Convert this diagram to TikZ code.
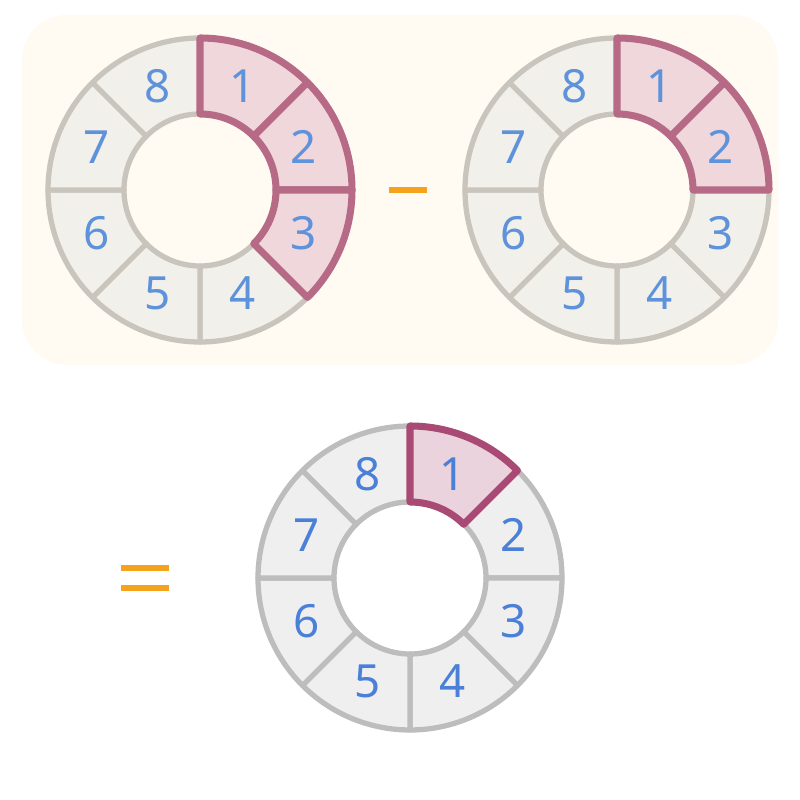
\documentclass[tikz,border=0pt]{standalone}
\usepackage{fontspec}
\setmainfont{Noto Sans}
\definecolor{bgc}{HTML}{FFFBF3}
\definecolor{gs}{HTML}{C9C5BD}
\definecolor{gf}{HTML}{F2F0EB}
\definecolor{hs}{HTML}{B66A86}
\definecolor{hf}{HTML}{EFD7DB}
\definecolor{gs2}{HTML}{BDBDBD}
\definecolor{gf2}{HTML}{EFEFEF}
\definecolor{hs2}{HTML}{A84A74}
\definecolor{hf2}{HTML}{EAD3DD}
\definecolor{numc}{HTML}{5E92DB}
\definecolor{numc2}{HTML}{4A80D8}
\definecolor{orng}{HTML}{F5A21C}
\tikzset{
  seg/.style={line width=1.5pt, line join=round},
  num/.style={font=\fontsize{13}{13}\selectfont, text=numc},
  bar/.style={fill=orng, inner sep=0pt}
}
\newcommand{\ringseg}[3]{%
  \pgfmathsetmacro{\sa}{90-45*(#2-1)}%
  \pgfmathsetmacro{\sb}{90-45*#2}%
  \draw[seg,#3] ($(#1)+(\sa:152)$) arc[start angle=\sa,end angle=\sb,radius=152]
     -- ($(#1)+(\sb:76)$) arc[start angle=\sb,end angle=\sa,radius=76] -- cycle;}
\newcommand{\ringnums}[2]{%
  \foreach \i in {1,...,8}{%
    \pgfmathsetmacro{\ma}{67.5-45*(\i-1)}%
    \node[num,#2] (#1n\i) at ($(#1)+(\ma:112)$) {\i};}}
\usetikzlibrary{calc}
\begin{document}
\begin{tikzpicture}[x=0.01cm,y=0.01cm]
\useasboundingbox (0,0) rectangle (800,800);
\fill[bgc, rounded corners=0.45cm] (22,435) rectangle (778,785);
\coordinate (A) at (200,610);
\coordinate (B) at (617,610);
\coordinate (C) at (410,222);
\foreach \i in {1,...,8}{\ringseg{A}{\i}{draw=gs,fill=gf}}
\foreach \i in {1,2,3}{\ringseg{A}{\i}{draw=hs,fill=hf,line width=2pt}}
\ringnums{A}{}
\foreach \i in {1,...,8}{\ringseg{B}{\i}{draw=gs,fill=gf}}
\foreach \i in {1,2}{\ringseg{B}{\i}{draw=hs,fill=hf,line width=2pt}}
\ringnums{B}{}
\foreach \i in {1,...,8}{\ringseg{C}{\i}{draw=gs2,fill=gf2}}
\ringseg{C}{1}{draw=hs2,fill=hf2,line width=2pt}
\ringnums{C}{text=numc2}
\node[bar, minimum width=0.38cm, minimum height=0.06cm] (minus) at (408,610) {};
\node[bar, minimum width=0.48cm, minimum height=0.065cm] (eqa) at (145,232) {};
\node[bar, minimum width=0.48cm, minimum height=0.065cm] (eqb) at (145,212) {};
\end{tikzpicture}
\end{document}
